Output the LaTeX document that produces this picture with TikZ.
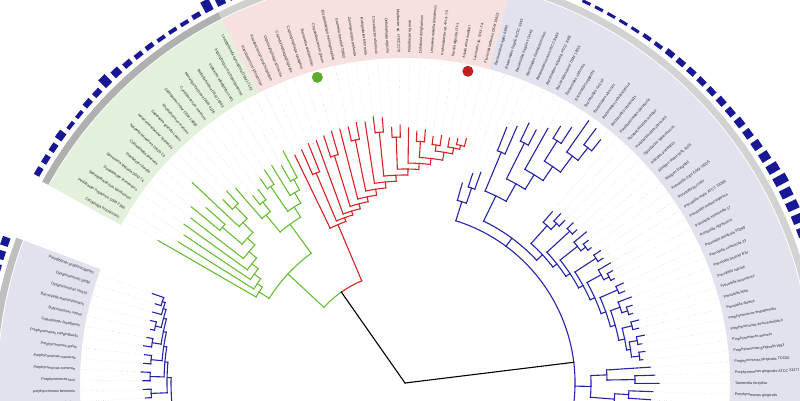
\documentclass[tikz,border=0pt]{standalone}
\usepackage{fontspec}
\setmainfont{Liberation Sans}

\definecolor{cladeGreen}{RGB}{104,190,56}
\definecolor{cladeRed}{RGB}{214,34,34}
\definecolor{cladeBlue}{RGB}{36,36,168}
\definecolor{bgGreen}{RGB}{226,240,220}
\definecolor{bgPink}{RGB}{246,224,224}
\definecolor{bgLav}{RGB}{226,226,238}
\definecolor{barBlue}{RGB}{24,24,150}

\tikzset{
  branch/.style={line width=1.1pt, line cap=rect},
  leafdots/.style={gray!60, dotted, line width=0.35pt},
  leaflabel/.style={font=\fontsize{3.7}{4}\selectfont, inner sep=0pt, text=black!85},
  marker/.style={circle, inner sep=0pt, minimum size=11pt},
}

% annular sector: from angle, to angle, inner r, outer r, fill
\newcommand{\sector}[5]{\fill[#5] (#1:#3) arc[start angle=#1, end angle=#2, radius=#3]
  -- (#2:#4) arc[start angle=#2, end angle=#1, radius=#4] -- cycle;}
% radial leaf label, flipped on the left half
\newcommand{\leaflab}[3]{%
  \ifdim#1pt>90pt
    \node[leaflabel, anchor=east, rotate=#1-180] (#2) at (#1:330) {#3};
  \else
    \node[leaflabel, anchor=west, rotate=#1] (#2) at (#1:330) {#3};
  \fi}

\begin{document}
\begin{tikzpicture}[x=1pt,y=1pt]
\useasboundingbox (0,0) rectangle (800,400);
\clip (0,0) rectangle (800,400);
\begin{scope}[shift={(405,17)}]
%% label wedges
\sector{-40}{75}{325}{407}{bgLav}
\sector{75}{116.75}{325}{407}{bgPink}
\sector{116.75}{150.95}{325}{407}{bgGreen}
\sector{159.5}{200}{325}{407}{bgLav}
%% colour strip
\sector{-40}{75}{408}{415}{gray!35}
\sector{75}{116.75}{408}{415}{gray!38}
\sector{116.75}{150.95}{408}{415}{gray!62}
\sector{159.5}{200}{408}{415}{gray!50}
%% bars
\foreach \a/\l in {160.5/8,162.4/6,164.3/5,166.2/4,168.1/4,170.0/5,171.9/4,173.8/6,175.7/5,177.6/4,179.5/4,181.4/5,183.3/4,
  117.7/12,119.6/5,121.5/4,123.4/4,125.3/4,127.2/5,129.1/5,131.0/6,132.9/8,134.8/11,136.7/6,138.6/6,140.5/4,142.4/4,144.3/8,146.2/6,148.1/6,150.0/6,
  115.8/10,113.9/11,112.0/6,110.1/6,
  74.0/3,72.1/3,70.2/3,68.3/3,66.4/3,64.5/3,62.6/3,60.7/3,58.8/3,56.9/3,55.0/4,53.1/4,51.2/6,49.3/6,47.4/6,45.5/6,43.6/6,41.7/7,39.8/7,37.9/8,36.0/8,34.1/9,32.2/10,30.3/12,28.4/14,26.5/12,24.6/12,22.7/10,20.8/10,18.9/8,17.0/8}
  {\sector{\a-0.6}{\a+0.6}{420}{420+\l}{barBlue}}

%% leaves, dotted guides, labels
\foreach \a/\r/\t [count=\i] in {
  117.7/262/Leadbetterella byssophila DSM 17132, 119.6/250/Algoriphagus machipongonensis,
  121.5/255/Indibacter alkaliphilus LW1, 123.4/255/Belliella baltica DSM 15883,
  125.3/250/Marivirga tractuosa DSM 4126, 127.2/243/Cyclobacterium marinum,
  129.1/241/Salinibacter ruber DSM 13855, 131.0/258/Rhodothermus marinus,
  132.9/262/Saprospira grandis Lewin, 134.8/258/Haliscomenobacter hydrossis,
  136.7/292/Niastella koreensis GR20-10, 138.6/265/Chitinophaga pinensis,
  140.5/277/Flexibacter litoralis, 142.4/270/Spirosoma linguale DSM 74,
  144.3/272/Dyadobacter fermentans, 146.2/266/Sphingobacterium spiritivorum,
  148.1/267/Pedobacter heparinus DSM 2366, 150.0/285/Cytophaga hutchinsonii}
  {\draw[leafdots] (\a:\r+2) -- (\a:324); \leaflab{\a}{g\i}{\t}}
\foreach \a/\r/\t [count=\i] in {
  75.9/252/Fluviicola taffensis DSM 16823, 77.8/250/Lacinutrix sp. 5H-3-7-4,
  79.7/249/Aquimarina muelleri, 81.6/250/Kordia algicida OT-1,
  83.5/248/Krokinobacter sp. 4H-3-7-5, 85.4/254/Leeuwenhoekiella blandensis,
  87.3/252/Dokdonia donghaensis, 89.2/255/Polaribacter irgensii,
  91.1/258/Maribacter sp. HTCC2170, 93.0/256/Cellulophaga algicola,
  94.9/266/Croceibacter atlanticus, 96.8/268/Robiginitalea biformata,
  98.7/264/Zunongwangia profunda, 100.6/265/Gramella forsetii KT0803,
  102.5/262/Elizabethkingia meningoseptica, 104.4/262/Chryseobacterium gleum,
  106.3/262/Riemerella anatipestifer, 108.2/260/Capnocytophaga sputigena,
  110.1/258/Capnocytophaga gingivalis, 112.0/258/Capnocytophaga ochracea,
  113.9/255/Flavobacterium psychrophilum, 115.8/253/Flavobacterium johnsoniae}
  {\draw[leafdots] (\a:\r+2) -- (\a:324); \leaflab{\a}{r\i}{\t}}
\foreach \a/\r/\t [count=\i] in {
  74.0/208/Bacteroides fragilis 638R, 72.1/220/Bacteroides fragilis NCTC 9343,
  70.2/224/Bacteroides fragilis YCH46, 68.3/275/Bacteroides thetaiotaomicron,
  66.4/280/Bacteroides ovatus ATCC 8483, 64.5/288/Bacteroides vulgatus ATCC 8482,
  62.6/285/Bacteroides dorei DSM 17855, 60.7/292/Bacteroides uniformis,
  58.8/300/Bacteroides eggerthii, 56.9/305/Bacteroides caccae,
  55.0/320/Bacteroides stercoris, 53.1/318/Bacteroides cellulosilyticus,
  51.2/312/Bacteroides intestinalis, 49.3/226/Parabacteroides distasonis,
  47.4/230/Parabacteroides merdae, 45.5/228/Parabacteroides johnsonii,
  43.6/232/Odoribacter splanchnicus, 41.7/230/Alistipes putredinis,
  39.8/236/Alistipes shahii WAL 8301, 37.9/232/Alistipes finegoldii,
  36.0/230/Prevotella copri DSM 18205, 34.1/236/Prevotella buccalis,
  32.2/234/Prevotella oralis ATCC 33269, 30.3/238/Prevotella melaninogenica,
  28.4/236/Prevotella intermedia 17, 26.5/234/Prevotella nigrescens,
  24.6/240/Prevotella denticola F0289, 22.7/238/Prevotella ruminicola 23,
  20.8/242/Prevotella bryantii B14, 18.9/240/Prevotella salivae,
  17.0/238/Prevotella timonensis, 15.1/242/Prevotella bivia,
  13.2/240/Prevotella disiens, 11.3/244/Porphyromonas endodontalis,
  9.4/240/Porphyromonas asaccharolytica, 7.5/242/Porphyromonas uenonis,
  5.6/239/Porphyromonas gingivalis W83, 3.7/246/Porphyromonas gingivalis TDC60,
  1.8/250/Porphyromonas gingivalis ATCC 33277, -0.1/254/Tannerella forsythia,
  -2.0/248/Porphyromonas gingivalis, -3.9/246/Porphyromonas gingivalis A7436,
  -5.8/244/Porphyromonas gingivalis HG66}
  {\draw[leafdots] (\a:\r+2) -- (\a:324); \leaflab{\a}{b\i}{\t}}
\foreach \a/\r/\t [count=\i] in {
  160.5/268/Paludibacter propionicigenes, 162.4/262/Dysgonomonas gadei,
  164.3/262/Dysgonomonas mossii, 166.2/262/Barnesiella intestinihominis,
  168.1/260/Butyricimonas virosa, 170.0/262/Coprobacter fastidiosus,
  171.9/264/Porphyromonas cangingivalis, 173.8/262/Porphyromonas gulae,
  175.7/262/Porphyromonas macacae, 177.6/264/Porphyromonas somerae,
  179.5/262/Porphyromonas levii, 181.4/262/Porphyromonas bennonis,
  183.3/260/Porphyromonas catoniae}
  {\draw[leafdots] (\a:\r+2) -- (\a:324); \leaflab{\a}{f\i}{\t}}

%% green clade
\begin{scope}[branch, cladeGreen]
\foreach \a/\p/\c in {137/111/160, 125.9/160/196, 148.05/160/172, 122.2/196/208, 129.6/196/218,
  120.1/208/220, 124.35/208/238, 118.65/220/232, 121.5/220/255, 117.7/232/262, 119.6/232/250,
  123.4/238/255, 125.3/238/250, 128.15/218/230, 131/218/258, 127.2/230/243, 129.1/230/241,
  146.1/172/178, 150/172/285, 144.15/178/186, 148.1/178/267, 142.1/186/194, 146.2/186/266,
  139.9/194/204, 144.3/194/272, 137.4/204/214, 142.4/204/270, 135.3/214/228, 139.55/214/240,
  136.7/228/292, 133.85/228/245, 132.9/245/262, 134.8/245/258, 138.6/240/265, 140.5/240/277}
  \draw (\a:\p) -- (\a:\c);
\foreach \r/\s/\e in {111/125/137, 160/125.9/148.05, 196/122.2/129.6, 208/120.1/124.35,
  220/118.65/121.5, 232/117.7/119.6, 238/123.4/125.3, 218/128.15/131, 230/127.2/129.1,
  172/146.1/150, 178/144.15/148.1, 186/142.1/146.2, 194/139.9/144.3, 204/137.4/142.4,
  214/135.3/139.55, 228/133.85/136.7, 245/132.9/134.8, 240/138.6/140.5}
  \draw (\s:\r) arc[start angle=\s, end angle=\e, radius=\r];
\end{scope}

%% red clade
\begin{scope}[branch, cladeRed]
\foreach \a/\p/\c in {112.95/111/172, 110.1/172/176, 115.8/172/253, 107.25/176/180, 112.95/176/228,
  112/228/258, 113.9/228/255, 104.4/180/185, 110.1/180/258, 101.5/185/190, 107.25/185/238,
  106.3/238/262, 108.2/238/260, 98.6/190/196, 104.4/190/262, 95.6/196/202, 101.55/196/248,
  100.6/248/265, 102.5/248/262, 92.5/202/208, 98.7/202/264, 89.2/208/214, 95.85/208/252,
  94.9/252/266, 96.8/252/268, 86.3/214/220, 92.05/214/246, 91.1/246/258, 93/246/256,
  83.4/220/226, 89.2/220/255, 80.4/226/234, 86.35/226/242, 85.4/242/254, 87.3/242/252,
  78.3/234/240, 82.55/234/240, 81.6/240/250, 83.5/240/248, 76.85/240/244, 79.7/240/249,
  75.9/244/252, 77.8/244/250}
  \draw (\a:\p) -- (\a:\c);
\foreach \r/\s/\e in {111/112.95/125, 172/110.1/115.8, 176/107.25/112.95, 228/112/113.9,
  180/104.4/110.1, 185/101.5/107.25, 238/106.3/108.2, 190/98.6/104.4, 196/95.6/101.55,
  248/100.6/102.5, 202/92.5/98.7, 208/89.2/95.85, 252/94.9/96.8, 214/86.3/92.05, 246/91.1/93,
  220/83.4/89.2, 226/80.4/86.35, 242/85.4/87.3, 234/78.3/82.55, 240/81.6/83.5,
  240/76.85/79.7, 244/75.9/77.8}
  \draw (\s:\r) arc[start angle=\s, end angle=\e, radius=\r];
\end{scope}

%% blue clade
\begin{scope}[branch, cladeBlue]
\foreach \a/\p/\c in {72.6/170/190, 74/190/208, 71.15/190/206, 70.2/206/224, 72.1/206/220,
  53.55/170/180, 64.1/180/208, 43/180/188, 67.35/208/250, 60.9/208/228, 68.3/250/275, 66.4/250/280,
  63.55/228/268, 58.2/228/245, 64.5/268/288, 62.6/268/285, 60.7/245/292, 55.7/245/262,
  57.85/262/286, 53.6/262/282, 58.8/286/300, 56.9/286/305, 55/282/320, 52.15/282/298,
  53.1/298/318, 51.2/298/312,
  47.9/188/212, 38.1/188/193, 49.3/212/226, 46.45/212/220, 47.4/220/230, 45.5/220/228,
  42.65/193/224, 33.55/193/198, 43.6/224/232, 41.7/224/230, 38.4/198/220, 28.7/198/203,
  39.8/220/236, 36.95/220/226, 37.9/226/232, 36/226/230, 33.15/203/228, 24.2/203/208,
  34.1/228/236, 32.2/228/234, 28.9/208/224, 19.5/208/213, 30.3/224/238, 27.45/224/230,
  28.4/230/236, 26.5/230/234, 23.65/213/232, 15.35/213/218, 24.6/232/240, 22.7/232/238,
  19.4/218/228, 11.3/218/224, 20.8/228/242, 17.95/228/234, 18.9/234/240, 17/234/238,
  14.15/224/234, 8.45/224/228, 15.1/234/242, 13.2/234/240, 10.35/228/236, 6.55/228/236,
  11.3/236/244, 9.4/236/240, 7.5/236/242, 5.6/236/239,
  -1.05/170/186, 2.3/186/202, -4.4/186/210, 3.7/202/246, 0.85/202/230, 1.8/230/250,
  -0.1/230/254, -2.95/210/224, -5.8/210/244, -2.0/224/248, -3.9/224/246,
  178.7/234/238, 175/238/241, 182.35/238/254, 181.4/254/262, 183.3/254/260,
  171.4/241/244, 178.55/241/255, 177.6/255/264, 179.5/255/262, 168/244/247, 174.75/244/255,
  173.8/255/262, 175.7/255/262, 165/247/250, 170.95/247/256, 170/256/262, 171.9/256/264,
  162.9/250/253, 167.15/250/256, 166.2/256/262, 168.1/256/260, 161.45/253/256, 164.3/253/262,
  160.5/256/268, 162.4/256/262}
  \draw (\a:\p) -- (\a:\c);
\foreach \r/\s/\e in {170/-60/72.6, 190/71.15/74, 206/70.2/72.1, 180/43/64.1, 208/60.9/67.35,
  250/66.4/68.3, 228/58.2/63.55, 268/62.6/64.5, 245/55.7/60.7, 262/53.6/57.85, 286/56.9/58.8,
  282/52.15/55, 298/51.2/53.1, 188/38.1/47.9, 212/46.45/49.3, 220/45.5/47.4, 193/33.55/42.65,
  224/41.7/43.6, 198/28.7/38.4, 220/36.95/39.8, 226/36/37.9, 203/24.2/33.15, 228/32.2/34.1,
  208/19.5/28.9, 224/27.45/30.3, 230/26.5/28.4, 213/15.35/23.65, 232/22.7/24.6, 218/11.3/19.4,
  228/17.95/20.8, 234/17/18.9, 224/8.45/14.15, 234/13.2/15.1, 228/6.55/10.35, 236/9.4/11.3,
  236/5.6/7.5, 186/-4.4/2.3, 202/0.85/3.7, 230/-0.1/1.8, 210/-5.8/-2.95, 224/-3.9/-2.0,
  234/178.7/200, 238/175/182.35, 254/181.4/183.3, 241/171.4/178.55, 255/177.6/179.5,
  244/168/174.75, 255/173.8/175.7, 247/165/170.95, 256/170/171.9, 250/162.9/167.15,
  256/166.2/168.1, 253/161.45/164.3, 256/160.5/162.4}
  \draw (\s:\r) arc[start angle=\s, end angle=\e, radius=\r];
\end{scope}

%% root
\draw[branch, black] (0,0) -- (7:170);
\draw[branch, black] (0,0) -- (125:111);

%% markers
\node[marker, fill=cladeGreen!90!black] (mkGreen) at (106:318) {};
\node[marker, fill=cladeRed!90!black] (mkRed) at (78.6:318) {};
\end{scope}
\end{tikzpicture}
\end{document}
